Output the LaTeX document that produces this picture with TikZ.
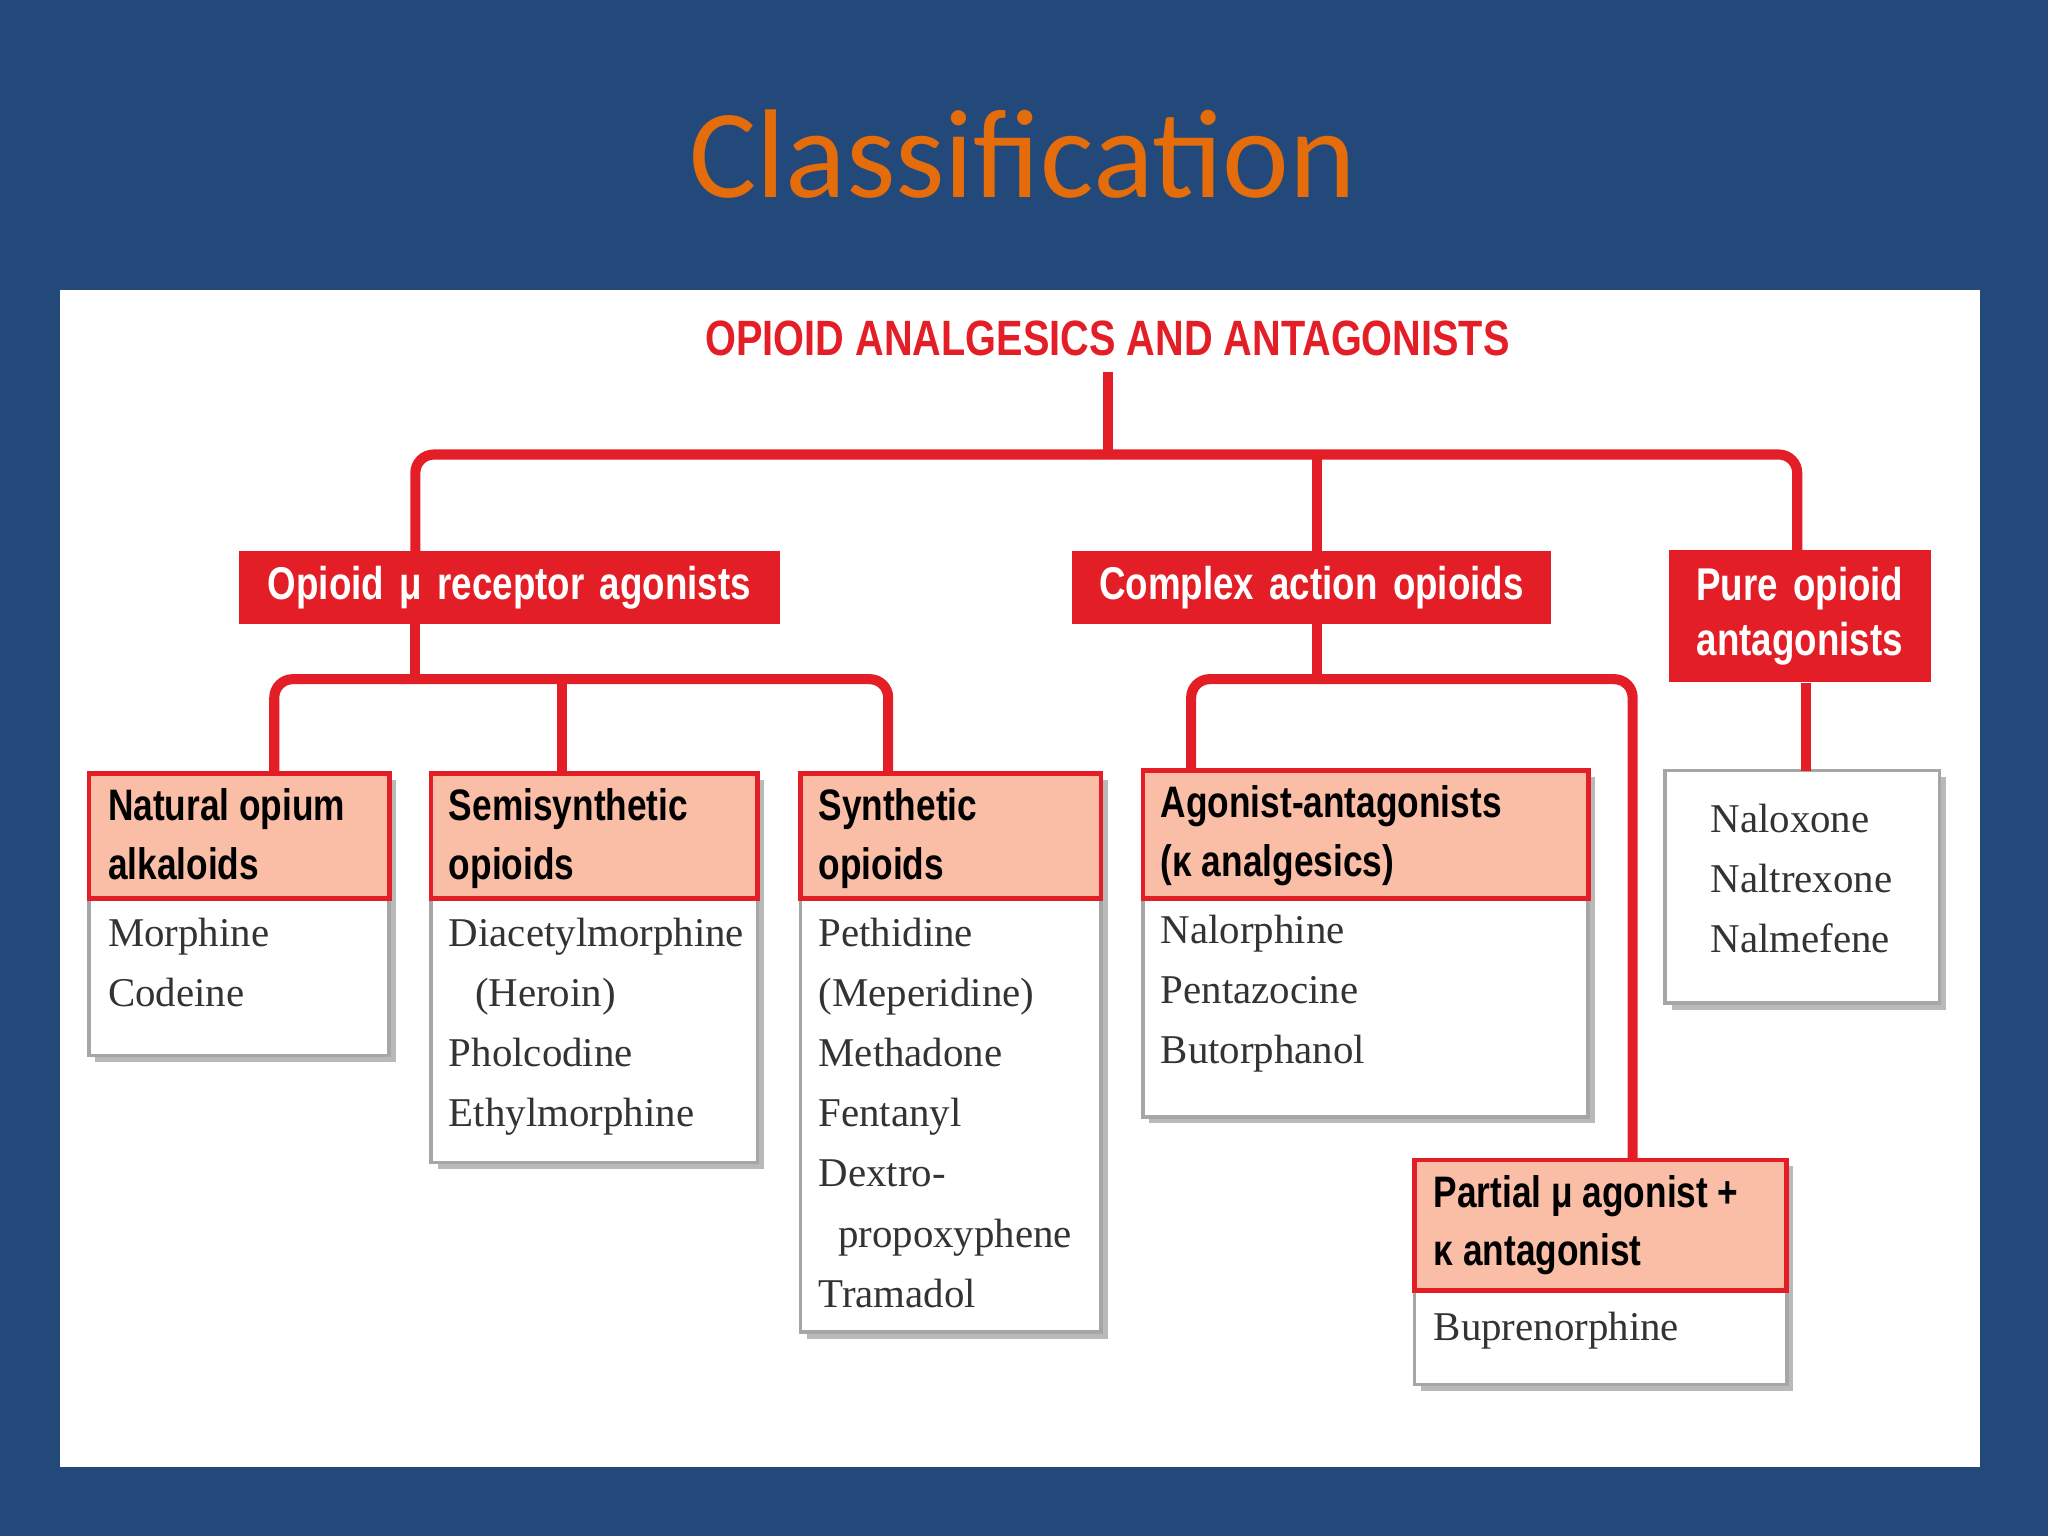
\documentclass[tikz,border=0pt]{standalone}
\usepackage{fontspec}
\setmainfont{Liberation Serif}
\newfontfamily\hdfont[FakeStretch=0.8]{Liberation Sans}
\newfontfamily\titlefont{Carlito}
\definecolor{bgblue}{RGB}{34,73,122}
\definecolor{tred}{RGB}{228,30,38}
\definecolor{salmon}{RGB}{249,190,165}
\definecolor{torange}{RGB}{228,108,10}
\tikzset{
 link/.style={draw=tred,line width=2.2pt,rounded corners=4pt},
 redbox/.style={fill=tred,text=white,font=\hdfont\bfseries\fontsize{10}{13}\selectfont,align=center,inner sep=0pt},
 hdr/.style={fill=salmon,draw=tred,line width=1pt},
 body/.style={fill=white,draw=gray!70,line width=0.8pt},
 shad/.style={fill=gray!55},
 htxt/.style={anchor=north west,font=\hdfont\bfseries\fontsize{9.6}{12.8}\selectfont,align=left,inner sep=0pt},
 btxt/.style={anchor=north west,font=\fontsize{8.9}{13.1}\selectfont,align=left,inner sep=0pt,text=black!80}
}
\newcommand{\cbox}[5]{%
 \fill[shad] (#1+5,#3+5) rectangle (#2+5,#5+5);
 \draw[body] (#1,#4) rectangle (#2,#5);
 \draw[hdr] (#1,#3) rectangle (#2,#4);
}
\begin{document}
\begin{tikzpicture}[x=0.01cm,y=-0.01cm]
\fill[bgblue] (0,0) rectangle (1568,1176);
\fill[white] (46,222) rectangle (1516,1123);
\node[text=torange,font=\titlefont\fontsize{27.5}{31}\selectfont] (title) at (783,118) {Classification};
\node[text=tred,font=\hdfont\bfseries\fontsize{10.8}{14}\selectfont] (root) at (848,259) {OPIOID ANALGESICS AND ANTAGONISTS};
% red boxes
\node[redbox,text width=4.14cm,minimum height=0.56cm] (mu) at (390,450) {Opioid μ receptor agonists};
\node[redbox,text width=3.66cm,minimum height=0.56cm] (cx) at (1004,450) {Complex action opioids};
\node[redbox,text width=2.0cm,minimum height=1.01cm] (pure) at (1378,472) {Pure opioid\\[-1pt] antagonists};
\coordinate (mu1) at (318,422); \coordinate (cx1) at (1008,422); \coordinate (pu1) at (1376,422);
\draw[link] (root.south) -- (848,348);
\draw[link] (mu1) |- (848,348) -| (pu1);
\draw[link] (cx1) -- (1008,348);
% boxes
\cbox{68}{298}{592}{688}{808}
\cbox{330}{580}{592}{688}{890}
\cbox{613}{843}{592}{688}{1020}
\cbox{875}{1216}{590}{688}{855}
\cbox{1083}{1368}{888}{988}{1060}
\fill[shad] (1280,595) rectangle (1490,773);
\draw[body] (1275,590) rectangle (1485,768);
\coordinate (b1) at (210,592); \coordinate (b2) at (430,592); \coordinate (b3) at (680,592);
\coordinate (b4) at (912,590); \coordinate (b5) at (1250,888); \coordinate (b6) at (1383,590);
\draw[link] (318,478) -- (318,520);
\draw[link] (b1) |- (430,520) -| (b3);
\draw[link] (b2) -- (430,520);
\draw[link] (1008,478) -- (1008,520);
\draw[link] (b4) |- (1008,520) -| (b5);
\draw[link] (1383,523) -- (b6);
% texts
\node[htxt] (h1) at (82,603) {Natural opium\\alkaloids};
\node[htxt] (h2) at (343,603) {Semisynthetic\\opioids};
\node[htxt] (h3) at (626,603) {Synthetic\\opioids};
\node[htxt] (h4) at (888,601) {Agonist-antagonists\\(κ analgesics)};
\node[htxt] (h5) at (1097,899) {Partial μ agonist +\\κ antagonist};
\node[btxt] (t1) at (82,702) {Morphine\\Codeine};
\node[btxt] (t2) at (343,702) {Diacetylmorphine\\\hspace*{0.2cm}(Heroin)\\Pholcodine\\Ethylmorphine};
\node[btxt] (t3) at (626,702) {Pethidine\\(Meperidine)\\Methadone\\Fentanyl\\Dextro-\\\hspace*{0.15cm}propoxyphene\\Tramadol};
\node[btxt] (t4) at (888,700) {Nalorphine\\Pentazocine\\Butorphanol};
\node[btxt] (t5) at (1097,1004) {Buprenorphine};
\node[btxt] (t6) at (1309,615) {Naloxone\\Naltrexone\\Nalmefene};
\end{tikzpicture}
\end{document}
